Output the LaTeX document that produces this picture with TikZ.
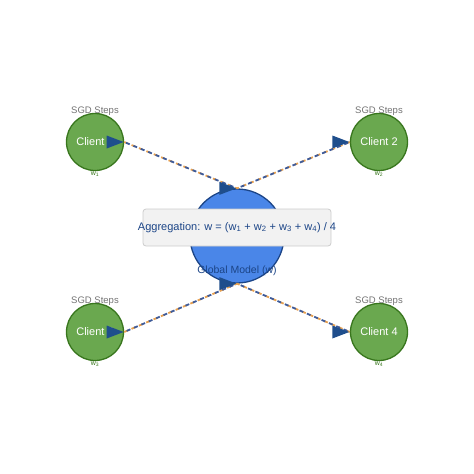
\documentclass[tikz,border=0pt]{standalone}
\usepackage{fontspec}
\setmainfont{Liberation Sans}
\usetikzlibrary{shapes.geometric,positioning}
\definecolor{fedGreen}{HTML}{6AA84F}
\definecolor{fedGreenDark}{HTML}{38761D}
\definecolor{fedBlue}{HTML}{4A86E8}
\definecolor{fedNavy}{HTML}{1C4587}
\definecolor{fedArrow}{HTML}{1F4E8C}
\definecolor{fedOrange}{HTML}{E6A050}
\definecolor{fedLine}{HTML}{3D5A99}
\tikzset{
  client/.style={circle, draw=fedGreenDark, fill=fedGreen, line width=1.3pt,
    minimum size=57pt, inner sep=0pt, text=white, font=\fontsize{11}{13}\selectfont},
  globalmodel/.style={circle, draw=fedNavy, fill=fedBlue, line width=1.3pt,
    minimum size=94pt, inner sep=0pt},
  aggbox/.style={draw=black!20, fill=black!5, rounded corners=3pt, line width=.8pt,
    minimum width=188pt, minimum height=37pt, text=fedNavy, inner sep=0pt,
    font=\fontsize{11}{13}\selectfont},
  steplabel/.style={text=black!55, font=\fontsize{9.5}{11}\selectfont, inner sep=0pt},
  weightlabel/.style={text=fedGreenDark, font=\fontsize{7}{8}\selectfont, inner sep=0pt},
  uplink/.style={draw=fedOrange, line width=1.8pt, dash pattern=on 4pt off 4pt},
  downlink/.style={draw=fedLine, line width=1.8pt, dash pattern=on 4pt off 4pt, dash phase=4pt},
  marker/.style={isosceles triangle, isosceles triangle stretches, fill=fedArrow,
    minimum width=13pt, minimum height=17pt, inner sep=0pt, anchor=apex}
}
\begin{document}
\begin{tikzpicture}[x=1pt, y=-1pt]
  \useasboundingbox (0,0) rectangle (474,474);

  \node[globalmodel] (gm) at (237,236) {};
  \node[client] (c1) at (95,142) {Client 1};
  \node[client] (c2) at (379,142) {Client 2};
  \node[client] (c3) at (95,332) {Client 3};
  \node[client] (c4) at (379,332) {Client 4};

  \foreach \c/\i in {c1/1,c2/2,c3/3,c4/4}{
    \node[steplabel, above=-2.5pt of \c.north] (s\i) {SGD Steps};
    \node[weightlabel, below=0.5pt of \c.south] (w\i) {w\textsubscript{\i}};
  }

  % upload and download share the same track
  \foreach \c/\a/\e in {c1/north/east,c2/north/west,c3/south/east,c4/south/west}{
    \draw[uplink] (\c.\e) -- (gm.\a);
    \draw[downlink] (gm.\a) -- (\c.\e);
  }

  \foreach \c/\e in {c1/east,c2/west,c3/east,c4/west}{
    \node[marker] at (\c.\e) {};
  }
  \node[marker] at (gm.north) {};
  \node[marker] at (gm.south) {};

  \node[aggbox] (agg) at (237,227.5) {\makebox[0pt]{Aggregation: w = (w\textsubscript{1} + w\textsubscript{2} + w\textsubscript{3} + w\textsubscript{4}) / 4}};
  \node[text=fedNavy, font=\fontsize{10.5}{12}\selectfont] (gml) at (237,271) {Global Model (w)};
\end{tikzpicture}
\end{document}
